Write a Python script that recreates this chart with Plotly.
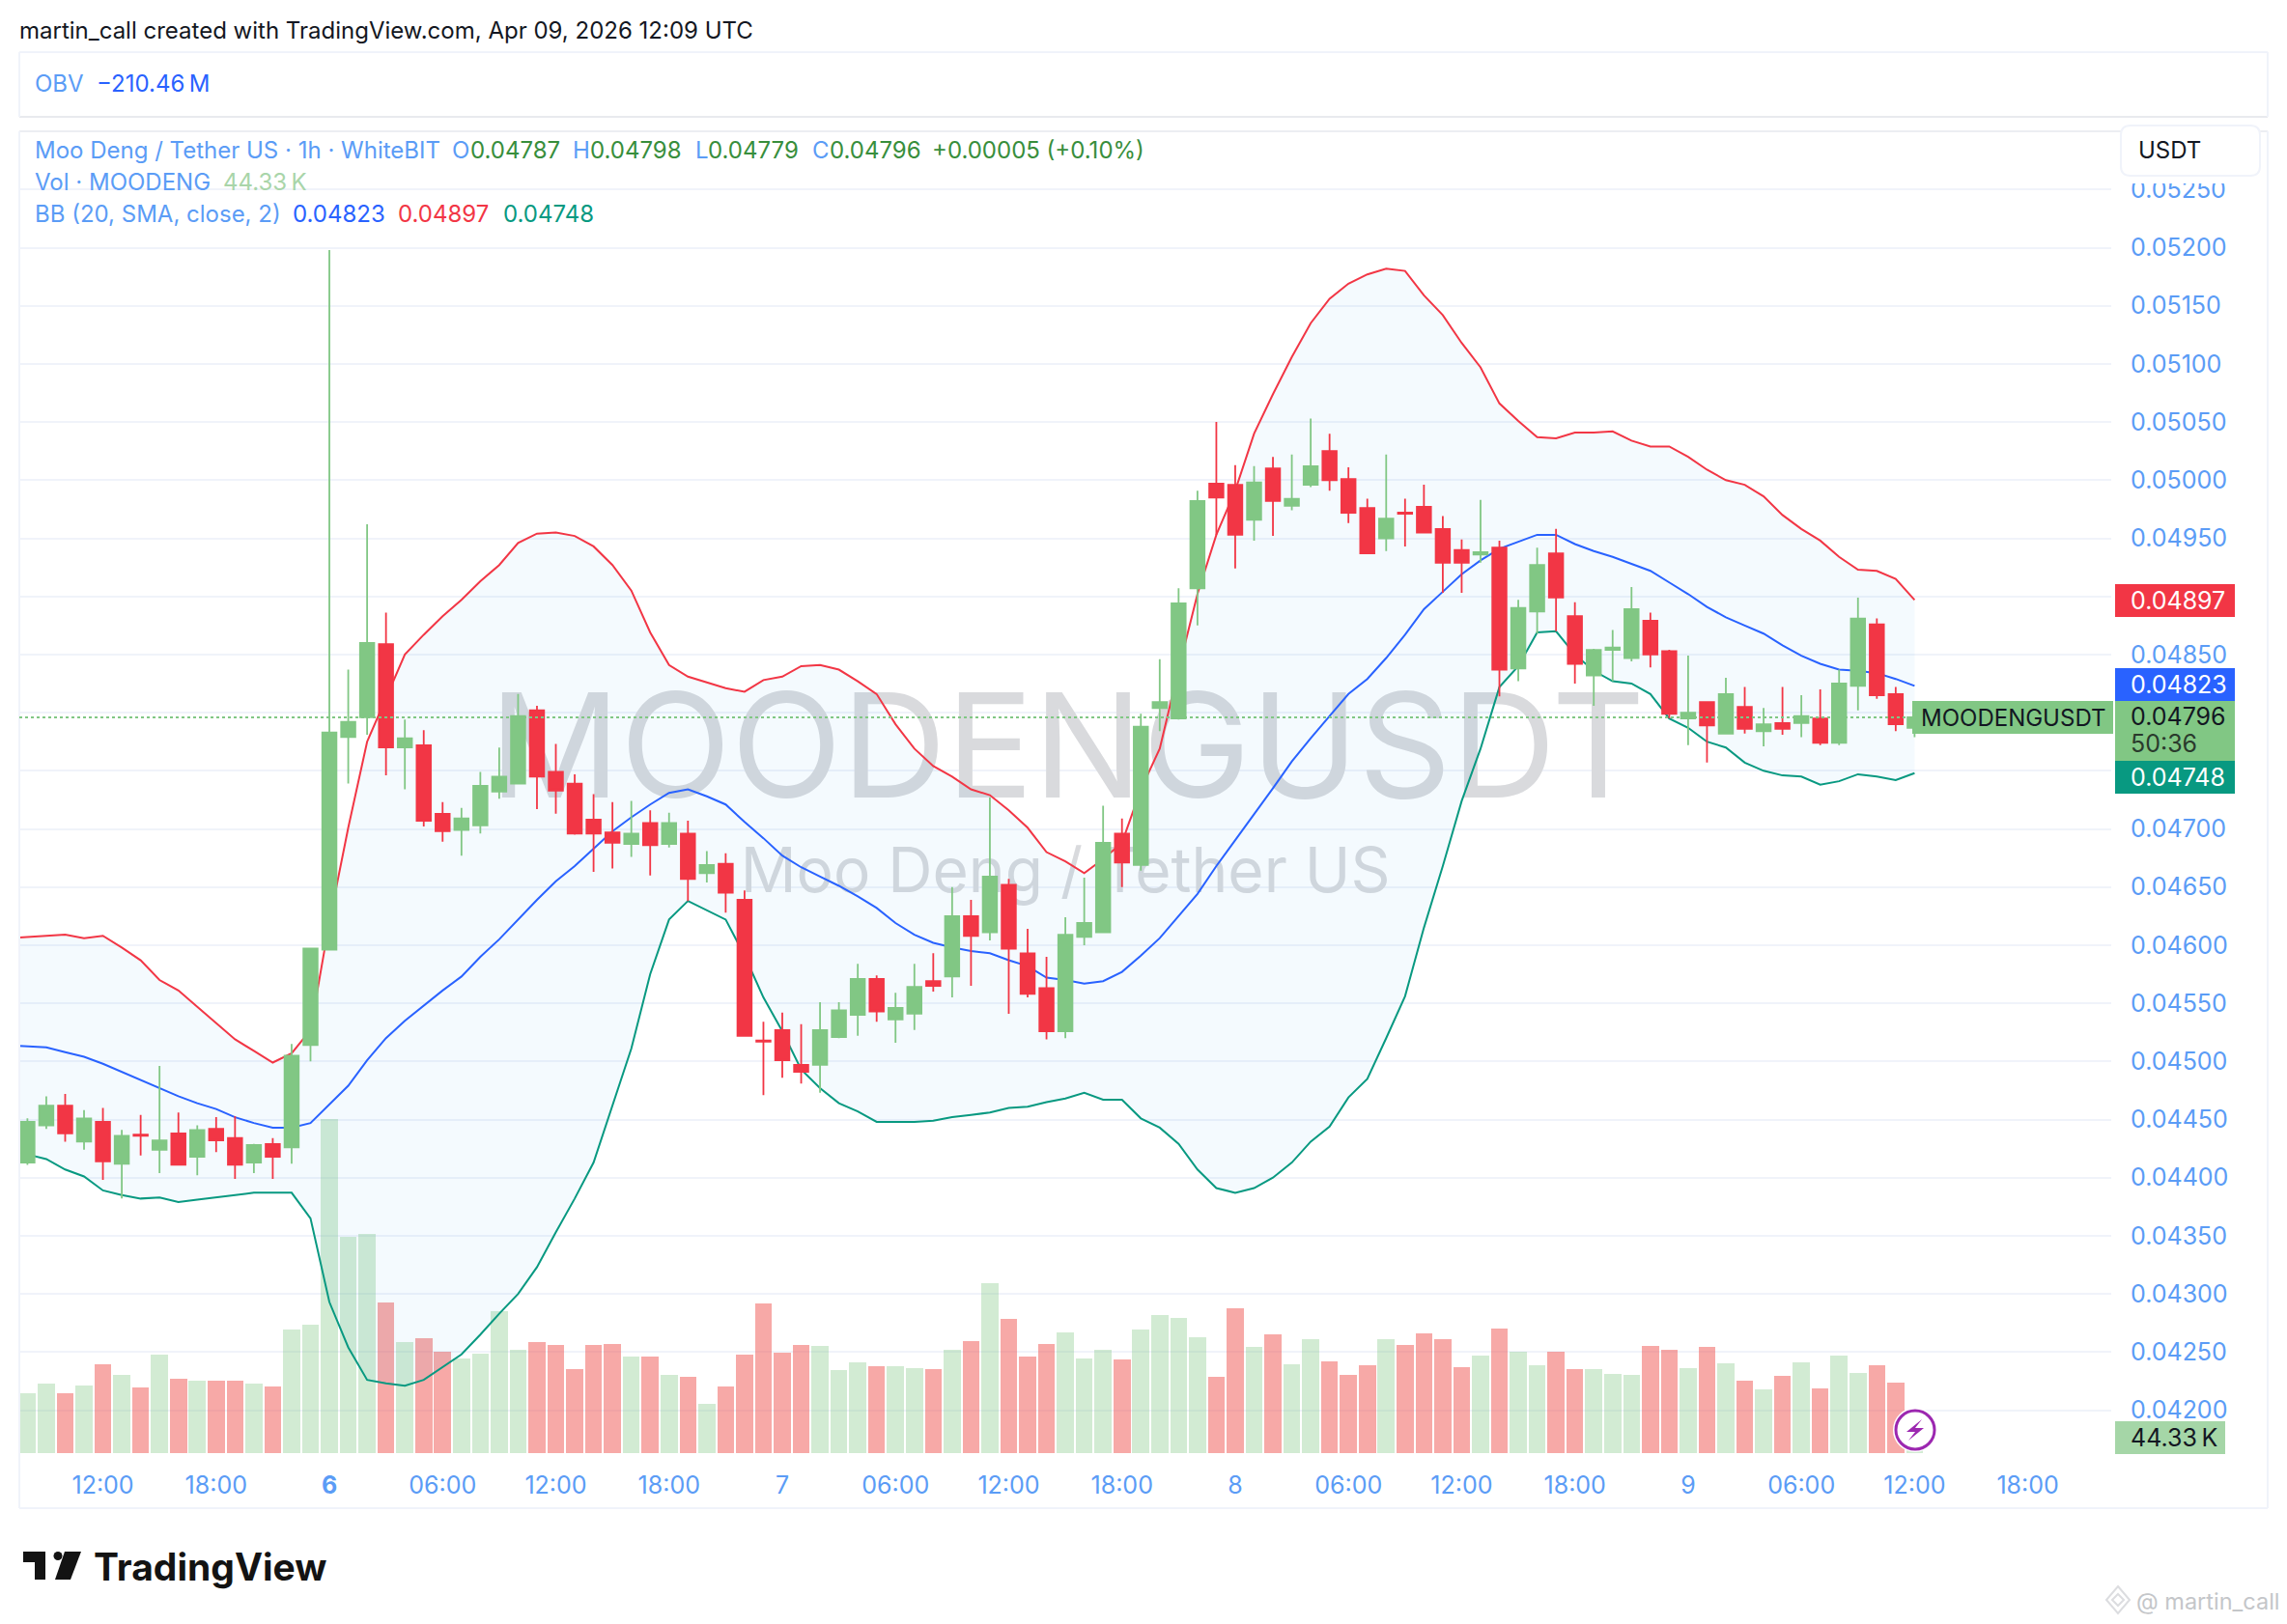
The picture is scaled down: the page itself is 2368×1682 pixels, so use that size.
import plotly.graph_objects as go

W, H = 2368, 1682
UNIT = 1e-5
CANDLE_HOURS = list(range(-16, 85))
BAND_HOURS = list(range(-17, 85))

OPEN = [4413,4445,4462,4431,4448,4412,4437,4424,4438,4418,4442,4434,4413,4429,4426,4514,
        4596,4779,4796,4859,4770,4772,4713,4699,4703,4732,
        4739,4802,4749,4739,4708,4697,4687,4705,4687,4696,
        4662,4670,4639,4518,4527,4497,4497,4521,4540,4571,
        4536,4541,4569,4573,4625,4611,4652,4593,4563,4526,
        4607,4611,4696,4669,4804,4795,4907,4997,4996,4966,
        5010,4978,4996,5025,5001,4976,4950,4972,4977,4958,
        4940,4936,4942,4838,4887,4937,4883,4832,4854,4847,
        4879,4853,4795,4809,4782,4805,4784,4791,4791,4795,
        4774,4823,4876,4816,4787]
CLOSE = [4448,4462,4438,4451,4414,4436,4436,4432,4411,4441,4432,4411,4428,4418,4505,4597,
         4783,4792,4860,4770,4778,4707,4698,4709,4737,4745,
         4797,4745,4733,4696,4696,4688,4696,4686,4705,4657,
         4669,4645,4522,4517,4501,4491,4527,4544,4571,4543,
         4546,4564,4565,4625,4608,4659,4597,4558,4526,4609,
         4619,4688,4671,4788,4809,4894,4982,4985,4953,4998,
         4982,4984,5012,5000,4972,4937,4967,4971,4955,4929,
         4929,4938,4837,4890,4927,4899,4842,4854,4856,4889,
         4850,4799,4800,4789,4816,4786,4790,4786,4797,4774,
         4825,4881,4815,4790,4796]
HIGH = [4451,4470,4472,4458,4460,4441,4454,4496,4456,4445,4452,4453,4429,4434,4515,4597,
        5198,4837,4962,4886,4794,4785,4723,4718,4749,4770,
        4816,4806,4773,4747,4730,4723,4724,4716,4714,4707,
        4681,4679,4647,4534,4542,4532,4551,4551,4584,4574,
        4559,4584,4593,4650,4639,4727,4657,4614,4590,4624,
        4658,4720,4709,4799,4846,4907,4991,5050,5013,5012,
        5020,5022,5053,5040,5011,4984,5022,4984,4996,4969,
        4949,4983,4948,4897,4942,4958,4895,4855,4871,4908,
        4886,4854,4849,4809,4830,4822,4804,4822,4815,4820,
        4837,4899,4881,4822,4798]
LOW = [4411,4442,4431,4424,4398,4382,4419,4404,4411,4402,4422,4399,4404,4399,4412,4500,
       4596,4739,4781,4746,4734,4702,4689,4677,4696,4726,
       4739,4717,4713,4695,4663,4666,4676,4660,4684,4638,
       4654,4628,4522,4471,4486,4481,4473,4520,4522,4534,
       4516,4527,4560,4555,4565,4604,4541,4555,4519,4520,
       4600,4611,4650,4664,4784,4794,4875,4953,4924,4948,
       4952,4974,4994,4991,4963,4937,4939,4943,4955,4903,
       4903,4929,4814,4827,4868,4870,4825,4806,4827,4844,
       4839,4795,4772,4757,4782,4782,4771,4781,4779,4772,
       4772,4802,4812,4784,4779]
VOLUME_K = [184,211,184,207,270,238,201,302,228,222,220,220,213,205,379,391,
            1021,660,669,459,340,352,311,290,305,433,
            317,338,329,257,329,332,296,294,238,232,
            151,205,300,456,307,330,327,254,277,265,
            265,260,257,316,342,519,410,295,333,369,
            289,316,286,377,422,413,354,233,442,324,
            363,271,348,280,239,268,348,330,366,348,
            262,298,380,310,268,310,257,257,242,239,
            327,316,260,324,274,221,195,236,277,198,
            298,245,268,215,44.33]
BB_UPPER = [4606,4607,4608,4609,4606,4608,4598,4587,4570,4561,4547,4533,4519,4509,4499,4507,4527,
            4620,4701,4775,4812,4850,4867,4883,4897,4913,4927,
            4946,4954,4955,4952,4943,4927,4905,4869,4841,4831,
            4826,4821,4818,4828,4831,4840,4841,4837,4827,4816,
            4790,4769,4754,4745,4734,4729,4716,4701,4680,4672,
            4662,4674,4688,4734,4769,4837,4902,4953,4991,5040,
            5074,5106,5135,5156,5169,5177,5182,5180,5159,5142,
            5118,5097,5066,5051,5037,5036,5041,5041,5042,5034,
            5029,5029,5020,5009,5000,4996,4986,4970,4958,4948,
            4934,4923,4922,4915,4897]
BB_BASIS = [4514,4513,4512,4508,4504,4498,4491,4484,4477,4470,4464,4459,4452,4447,4443,4443,4447,
            4463,4479,4501,4520,4535,4548,4561,4573,4590,4605,
            4622,4639,4655,4668,4683,4698,4710,4721,4731,4734,
            4728,4721,4706,4692,4677,4667,4659,4651,4642,4632,
            4619,4609,4602,4598,4595,4593,4587,4582,4572,4570,
            4567,4569,4577,4591,4606,4625,4644,4668,4690,4713,
            4735,4758,4778,4797,4816,4829,4847,4867,4889,4904,
            4919,4931,4941,4947,4953,4953,4945,4939,4934,4928,
            4922,4912,4902,4891,4882,4875,4868,4858,4849,4842,
            4837,4836,4834,4829,4823]
BB_LOWER = [4423,4420,4416,4407,4401,4389,4385,4382,4383,4379,4381,4383,4385,4387,4387,4387,4365,
            4293,4254,4226,4223,4221,4226,4237,4248,4265,4283,
            4300,4323,4353,4382,4413,4463,4511,4575,4622,4638,
            4630,4622,4591,4555,4526,4493,4477,4464,4457,4448,
            4448,4448,4449,4452,4454,4456,4460,4461,4465,4468,
            4473,4467,4467,4451,4443,4429,4407,4391,4387,4391,
            4400,4413,4431,4444,4469,4485,4520,4556,4615,4668,
            4724,4769,4822,4840,4869,4870,4850,4836,4827,4825,
            4816,4795,4787,4775,4770,4757,4750,4746,4745,4738,
            4741,4747,4745,4742,4748]
X_TICK_HOURS = [-12,-6,0,6,12,18,24,30,36,42,48,54,60,66,72,78,84,90]
X_TICK_LABELS = ["12:00","18:00","<b>6</b>","06:00","12:00","18:00","7","06:00","12:00","18:00","8",
                 "06:00","12:00","18:00","9","06:00","12:00","18:00"]
Y_TICKS = [0.04200,0.04250,0.04300,0.04350,0.04400,0.04450,0.04500,0.04550,0.04600,0.04650,0.04700,
           0.04750,0.04800,0.04850,0.04900,0.04950,0.05000,0.05050,0.05100,0.05150,0.05200,0.05250]
HIDDEN_LABELS = {0.04750, 0.04800, 0.04900}   # covered by the value tags in the reference
Y_LABELS = ["" if v in HIDDEN_LABELS else f"{v:.5f}" for v in Y_TICKS]
LAST_PRICE = 0.04796

GREEN, RED, BLUE, TEAL = "#81c784", "#f23645", "#2962ff", "#089981"
LBLUE, TXT_G = "#5b9cf6", "#388e3c"
GRID = "#f0f3fa"
FONT = "Inter, 'Noto Sans', sans-serif"

def px(x): return x / W
def py(y): return 1 - y / H
def scaled(a): return [v * UNIT for v in a]

fig = go.Figure()
vol_colors = ["rgba(129,199,132,0.36)" if c >= o else "rgba(239,83,80,0.5)" for o, c in zip(OPEN, CLOSE)]
fig.add_bar(x=CANDLE_HOURS, y=VOLUME_K, marker=dict(color=vol_colors, line_width=0), width=0.9,
            yaxis="y", showlegend=False, hoverinfo="skip")

# watermark text below the band fill
WM = "#d9dadd"
fig.add_scatter(x=[39.1], y=[0.04758], mode="text", text=["MOODENGUSDT"], yaxis="y2", showlegend=False,
                textposition="middle center", textfont=dict(family=FONT, size=150, color=WM), hoverinfo="skip")
fig.add_scatter(x=[39.0], y=[0.04659], mode="text", text=["Moo Deng / Tether US"], yaxis="y2", showlegend=False,
                textposition="middle center", textfont=dict(family=FONT, size=64, color=WM), hoverinfo="skip")

fig.add_scatter(x=BAND_HOURS, y=scaled(BB_UPPER), mode="lines", line=dict(color=RED, width=2),
                yaxis="y2", showlegend=False, hoverinfo="skip")
fig.add_scatter(x=BAND_HOURS, y=scaled(BB_LOWER), mode="lines", line=dict(color=TEAL, width=2),
                fill="tonexty", fillcolor="rgba(33,150,243,0.05)", yaxis="y2", showlegend=False, hoverinfo="skip")
fig.add_scatter(x=BAND_HOURS, y=scaled(BB_BASIS), mode="lines", line=dict(color=BLUE, width=2),
                yaxis="y2", showlegend=False, hoverinfo="skip")

fig.add_candlestick(x=CANDLE_HOURS, open=scaled(OPEN), high=scaled(HIGH), low=scaled(LOW), close=scaled(CLOSE),
                    increasing=dict(line=dict(color=GREEN, width=1.8), fillcolor=GREEN),
                    decreasing=dict(line=dict(color=RED, width=1.8), fillcolor=RED),
                    whiskerwidth=0, yaxis="y3", showlegend=False, hoverinfo="skip")

price_range = [0.0495 - (1505 - 557.5) / 120400, 0.0495 + (557.5 - 136) / 120400]
dom_y = [py(1505), py(136)]
fig.update_layout(
    width=W, height=H, margin=dict(l=0, r=0, t=0, b=0), paper_bgcolor="white", plot_bgcolor="white",
    font=dict(family=FONT), boxgap=0, boxgroupgap=0.25, bargap=0, dragmode=False, showlegend=False,
    xaxis=dict(domain=[px(20), px(2186)], range=[-16.43, 94.42], tickmode="array", tickvals=X_TICK_HOURS,
               ticktext=X_TICK_LABELS, ticks="outside", ticklen=11, tickcolor="rgba(0,0,0,0)",
               tickfont=dict(size=25, color=LBLUE, family=FONT), showgrid=False, zeroline=False,
               showline=False, anchor="y", rangeslider=dict(visible=False)),
    yaxis=dict(domain=dom_y, range=[0, 4039], visible=False, fixedrange=True),
    yaxis2=dict(domain=dom_y, range=price_range, overlaying="y", side="right", anchor="x", tickmode="array",
                tickvals=Y_TICKS, ticktext=Y_LABELS, ticks="outside", ticklen=14, tickcolor="rgba(0,0,0,0)",
                tickfont=dict(size=25, color=LBLUE, family=FONT), showgrid=True, gridcolor=GRID, gridwidth=2,
                zeroline=False, showline=False),
    yaxis3=dict(domain=dom_y, range=price_range, overlaying="y", side="right", anchor="x", visible=False),
)

shapes = []
def rect(x0, y0, x1, y1, fill, line="rgba(0,0,0,0)", lw=0):
    shapes.append(dict(type="rect", xref="paper", yref="paper", x0=px(x0), x1=px(x1), y0=py(y1), y1=py(y0),
                       fillcolor=fill, line=dict(color=line, width=lw), layer="above"))
def hline(y, x0=20, x1=2348, color=GRID, lw=2):
    shapes.append(dict(type="line", xref="paper", yref="paper", x0=px(x0), x1=px(x1), y0=py(y), y1=py(y),
                       line=dict(color=color, width=lw), layer="above"))
def vline(x, y0, y1, color=GRID, lw=2):
    shapes.append(dict(type="line", xref="paper", yref="paper", x0=px(x), x1=px(x), y0=py(y0), y1=py(y1),
                       line=dict(color=color, width=lw), layer="above"))
def poly(points, fill, line=None):
    d = "M " + " L ".join(f"{px(a):.5f},{py(b):.5f}" for a, b in points) + " Z"
    shapes.append(dict(type="path", xref="paper", yref="paper", path=d, fillcolor=fill,
                       line=dict(color=line or "rgba(0,0,0,0)", width=2 if line else 0), layer="above"))

# pane frame
hline(54); hline(121, color="#e8eaee"); hline(136, color="#eceef2"); hline(1562)
vline(20, 54, 121); vline(20, 136, 1562); vline(2348, 54, 121); vline(2348, 136, 1562)

# last price dotted line
shapes.append(dict(type="line", xref="paper", yref="y2", x0=px(20), x1=px(2186), y0=LAST_PRICE, y1=LAST_PRICE,
                   line=dict(color=GREEN, width=2, dash="dot"), layer="above"))

# axis value tags
rect(2190, 605, 2314, 639, RED)
rect(2190, 692, 2314, 726, BLUE)
rect(1980, 726, 2188, 760, GREEN)
rect(2190, 726, 2314, 788, GREEN)
rect(2190, 788, 2314, 822, TEAL)
rect(2190, 1472, 2304, 1506, "#a5d6a7")
# currency box with the white strip that clips the label below it
rect(2196, 170, 2340, 190, "white")
shapes.append(dict(type="path", xref="paper", yref="paper", fillcolor="white", line=dict(color=GRID, width=2), layer="above",
                   path="M {} {} L {} {} Q {} {} {} {} L {} {} Q {} {} {} {} L {} {} Q {} {} {} {} L {} {} Q {} {} {} {} Z".format(
                       *[v for p in [(2206,130),(2330,130),(2340,130),(2340,140),(2340,172),(2340,182),(2330,182),(2206,182),(2196,182),(2196,172),(2196,140),(2196,130),(2206,130)]
                         for v in (round(px(p[0]),5), round(py(p[1]),5))])))
# lightning badge
shapes.append(dict(type="circle", xref="paper", yref="paper", x0=px(1961), x1=px(2005), y0=py(1503), y1=py(1459),
                   fillcolor="white", line=dict(color="white", width=2), layer="above"))
shapes.append(dict(type="circle", xref="paper", yref="paper", x0=px(1963), x1=px(2003), y0=py(1501), y1=py(1461),
                   fillcolor="white", line=dict(color="#9c27b0", width=3), layer="above"))
poly([(1990,1470),(1974,1483),(1983,1483),(1976,1492),(1992,1479),(1983,1479)], "#9c27b0")
# TradingView logo mark
poly([(24,1607),(47,1607),(47,1636),(36,1636),(36,1618),(24,1618)], "#131313")
shapes.append(dict(type="circle", xref="paper", yref="paper", x0=px(55.5), x1=px(64.5), y0=py(1616), y1=py(1607),
                   fillcolor="#131313", line_width=0, layer="above"))
poly([(67,1607),(84,1607),(73,1636),(57,1636)], "#131313")
# faint diamond mark of the bottom-right signature
poly([(2193,1643),(2205,1657),(2193,1671),(2181,1657)], "rgba(0,0,0,0)", "#dcdde0")
poly([(2193,1651),(2199,1657),(2193,1663),(2187,1657)], "rgba(0,0,0,0)", "#dcdde0")

anns = []
def text(x, y, s, size=24, color="#131722", anchor="left", **kw):
    anns.append(dict(xref="paper", yref="paper", x=px(x), y=py(y), text=s, showarrow=False, xanchor=anchor,
                     yanchor="middle", font=dict(size=size, color=color, family=kw.get("family", FONT)),
                     borderpad=0, borderwidth=0))

text(20, 32, "martin_call created with TradingView.com, Apr 09, 2026 12:09 UTC", 24, "#131722")
text(36, 87, "OBV", 24, LBLUE)
text(100, 87, "\u2212210.46\u2009M", 24, BLUE)
text(36, 155, "Moo Deng / Tether US \u00b7 1h \u00b7 WhiteBIT", 24, LBLUE)
for x, s in [(468, "O"), (593, "H"), (720, "L"), (841, "C")]:
    text(x, 155, s, 24, LBLUE)
for x, s in [(487, "0.04787"), (611, "0.04798"), (733, "0.04779"), (859, "0.04796"), (965, "+0.00005 (+0.10%)")]:
    text(x, 155, s, 24, TXT_G)
text(36, 188, "Vol \u00b7 MOODENG", 24, LBLUE)
text(231, 188, "44.33\u2009K", 24, "#a9d5a9")
text(36, 222, "BB (20, SMA, close, 2)", 24, LBLUE)
text(303, 222, "0.04823", 24, BLUE)
text(412, 222, "0.04897", 24, RED)
text(521, 222, "0.04748", 24, TEAL)
text(2214, 155, "USDT", 24, "#131722")
text(2206, 622, "0.04897", 25, "white")
text(2206, 709, "0.04823", 25, "white")
text(2206, 742, "0.04796", 25, "#131722")
text(2206, 770, "50:36", 25, "#2a3a2c")
text(2206, 805, "0.04748", 25, "white")
text(1989, 743, "MOODENGUSDT", 24, "#131722")
text(2206, 1489, "44.33\u2009K", 25, "#131722")
text(97, 1622, "<b>TradingView</b>", 39, "#131313")
text(2212, 1658, "@ martin_call", 23.5, "#c4c6c9")
fig.update_layout(shapes=shapes, annotations=anns)

fig.write_html("out.html", post_script="document.body.style.margin='0';", config=dict(displayModeBar=False))
